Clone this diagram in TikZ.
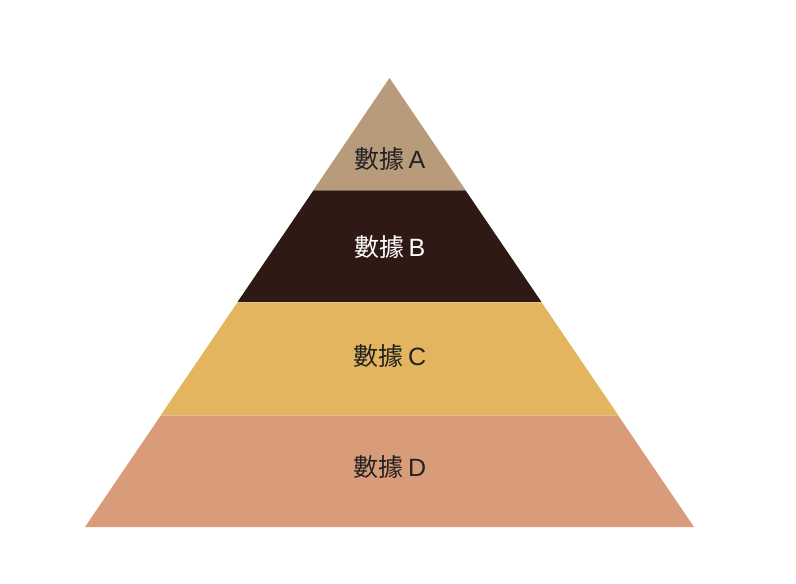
\documentclass[tikz,border=0pt]{standalone}
\usepackage{fontspec}
\newfontfamily\cjk{Noto Sans CJK TC}
\newfontfamily\lat{Liberation Sans}
\definecolor{layA}{HTML}{B89B7A}
\definecolor{layB}{HTML}{2E1915}
\definecolor{layC}{HTML}{E3B55E}
\definecolor{layD}{HTML}{D99C7B}
\definecolor{txt}{HTML}{222222}
\newcommand{\lbltext}[1]{{\cjk 數據}\,{\lat #1}}
\begin{document}
\begin{tikzpicture}[x=1pt,y=-1pt,
  lbl/.style={font=\fontsize{25}{29}\selectfont, text=txt, anchor=center, inner sep=0pt}]
\useasboundingbox[fill=white] (0,0) rectangle (796,584);
\coordinate (apex) at (389.5,78);
\fill[layA] (389.5,78) -- (465.5,190) -- (313.5,190) -- cycle;
\fill[layB] (313.5,190.3) -- (465.5,190.3) -- (541.5,302) -- (237.5,302) -- cycle;
\fill[layC] (237.5,302.3) -- (541.5,302.3) -- (618.1,415) -- (160.9,415) -- cycle;
\fill[layD] (160.9,415.3) -- (618.1,415.3) -- (694,527) -- (85,527) -- cycle;
\node[lbl] (a) at (390,159) {\lbltext{A}};
\node[lbl, text=white] (b) at (390,247) {\lbltext{B}};
\node[lbl] (c) at (390,356) {\lbltext{C}};
\node[lbl] (d) at (390,467) {\lbltext{D}};
\end{tikzpicture}
\end{document}
